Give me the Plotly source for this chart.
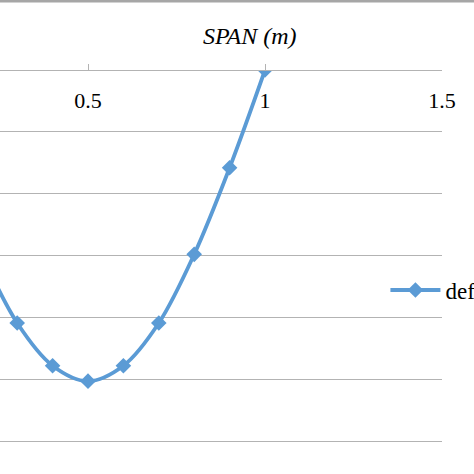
import plotly.graph_objects as go

# span positions (m) and deflection (grid units)
span = [0.0, 0.1, 0.2, 0.3, 0.4, 0.5, 0.6, 0.7, 0.8, 0.9, 1.0]
deflection = [0.0, -1.58, -2.98, -4.09, -4.78, -5.03, -4.78, -4.09, -2.98, -1.58, 0.0]
x_ticks = [0.5, 1, 1.5]
x_tick_text = ['0.5', '1', '1.5']

BLUE = '#5b9bd5'
GRID = '#b3b3b3'
FONT = 'Liberation Serif, Times New Roman, serif'

fig = go.Figure()
fig.add_trace(
    go.Scatter(
        x=span,
        y=deflection,
        name='deflection',
        mode='lines+markers',
        line=dict(color=BLUE, width=3.8, shape='spline'),
        marker=dict(symbol='diamond', size=12, color=BLUE),
    )
)

fig.update_layout(
    width=474,
    height=474,
    margin=dict(l=0, r=32, t=70, b=31, autoexpand=False),
    paper_bgcolor='white',
    plot_bgcolor='white',
    font=dict(family=FONT, size=22, color='black'),
    showlegend=True,
    legend=dict(
        x=0.872, y=0.41, xanchor='left', yanchor='middle',
        bgcolor='rgba(0,0,0,0)', itemwidth=50,
        font=dict(family=FONT, size=23, color='black'),
    ),
    # axis line sits on the top edge, labels hang below it, ticks point up
    xaxis=dict(
        anchor='free',
        position=1,
        side='bottom',
        range=[0.2514, 1.5],
        tickvals=x_ticks,
        ticktext=x_tick_text,
        ticks='inside',
        ticklen=6,
        tickcolor=GRID,
        ticklabelstandoff=10,
        showline=True,
        linecolor=GRID,
        linewidth=1.3,
        showgrid=False,
        zeroline=False,
        tickfont=dict(family=FONT, size=22, color='black'),
    ),
    yaxis=dict(
        range=[-6.03, 0],
        dtick=1,
        showgrid=True,
        gridcolor=GRID,
        gridwidth=1.3,
        zeroline=False,
        showticklabels=False,
        ticks='',
    ),
    annotations=[
        dict(
            text='<i>SPAN (m)</i>',
            xref='paper', yref='paper',
            x=249.5 / 442, y=1 + 34.5 / 373,
            xanchor='center', yanchor='middle',
            showarrow=False,
            font=dict(family=FONT, size=24, color='black'),
        )
    ],
    shapes=[
        dict(
            type='line', xref='paper', yref='paper',
            x0=-0.05, x1=1.2, y0=1 + 69 / 373, y1=1 + 69 / 373,
            line=dict(color='#a6a6a6', width=3),
        )
    ],
)

# drop the page's default body margin so the figure sits at the window corner
fig.write_html(
    'out.html',
    config={'displayModeBar': False},
    post_script="document.body.style.margin='0';",
)
